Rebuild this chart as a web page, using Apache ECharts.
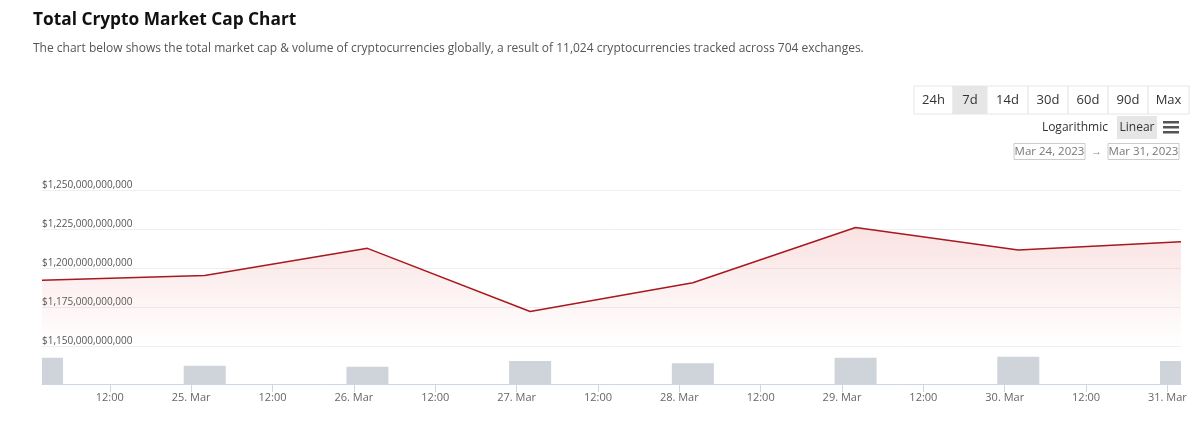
<!DOCTYPE html>
<html>
<head>
<meta charset="utf-8">
<script src="https://cdn.jsdelivr.net/npm/echarts@6/dist/echarts.min.js"></script>
<style>
  html, body { margin: 0; padding: 0; background: #fff; }
  #main { width: 1200px; height: 424px; }
</style>
</head>
<body>
<div id="main"></div>
<script>
// data
var dates = ['2023-03-24 02:00', '2023-03-25 02:00', '2023-03-26 02:00', '2023-03-27 02:00',
  '2023-03-28 02:00', '2023-03-29 02:00', '2023-03-30 02:00', '2023-03-31 02:00'];
var marketCap = [1192.2e9, 1195.2e9, 1212.6e9, 1172.1e9, 1190.5e9, 1226.0e9, 1211.5e9, 1216.8e9];
var volume = [81.6e9, 56.8e9, 53.7e9, 71.3e9, 64.2e9, 81.6e9, 84.7e9, 71.3e9];
var tickTimes = ['2023-03-24 12:00', '2023-03-25 00:00', '2023-03-25 12:00', '2023-03-26 00:00',
  '2023-03-26 12:00', '2023-03-27 00:00', '2023-03-27 12:00', '2023-03-28 00:00',
  '2023-03-28 12:00', '2023-03-29 00:00', '2023-03-29 12:00', '2023-03-30 00:00',
  '2023-03-30 12:00', '2023-03-31 00:00'];
var tickLabels = ['12:00', '25. Mar', '12:00', '26. Mar', '12:00', '27. Mar', '12:00', '28. Mar',
  '12:00', '29. Mar', '12:00', '30. Mar', '12:00', '31. Mar'];
var rangeButtons = ['24h', '7d', '14d', '30d', '60d', '90d', 'Max'];

var FONT = '"Open Sans", sans-serif';
var toMs = function (s) { return +echarts.time.parse(s); };
var times = dates.map(toMs);
var tickValues = tickTimes.map(toMs);
var capData = times.map(function (t, i) { return [t, marketCap[i]]; });
var volData = times.map(function (t, i) { return [t, volume[i]]; });

// range selector buttons (drawn as graphics)
var btnWidths = [39, 34, 41, 40, 40, 40, 41];
var graphics = [];
var bx = 914;
rangeButtons.forEach(function (label, i) {
  graphics.push({
    type: 'rect',
    shape: { x: bx, y: 86, width: btnWidths[i], height: 28 },
    style: { fill: i === 1 ? '#e6e6e6' : '#fff', stroke: '#e6e6e6', lineWidth: 1 }
  });
  graphics.push({
    type: 'text',
    x: bx + btnWidths[i] / 2, y: 100,
    style: { text: label, fill: '#333', font: '13px ' + FONT, align: 'center', verticalAlign: 'middle' }
  });
  bx += btnWidths[i];
});
graphics.push(
  {
    type: 'text', x: 1108, y: 127.5,
    style: { text: 'Logarithmic', fill: '#333', font: '12px ' + FONT, align: 'right', verticalAlign: 'middle' }
  },
  {
    type: 'rect', shape: { x: 1117, y: 116, width: 40, height: 23 },
    style: { fill: '#e6e6e6' }
  },
  {
    type: 'text', x: 1137, y: 127.5,
    style: { text: 'Linear', fill: '#333', font: '12px ' + FONT, align: 'center', verticalAlign: 'middle' }
  },
  { type: 'rect', shape: { x: 1163, y: 121, width: 16, height: 2.5 }, style: { fill: '#555' } },
  { type: 'rect', shape: { x: 1163, y: 126, width: 16, height: 2.5 }, style: { fill: '#555' } },
  { type: 'rect', shape: { x: 1163, y: 131, width: 16, height: 2.5 }, style: { fill: '#555' } },
  {
    type: 'rect', shape: { x: 1014, y: 143.5, width: 71, height: 16 },
    style: { fill: '#fff', stroke: '#ccc', lineWidth: 1 }
  },
  {
    type: 'text', x: 1049.5, y: 152,
    style: { text: echarts.time.format(times[0], '{MMM} {d}, {yyyy}'), fill: '#777', font: '11.5px ' + FONT, align: 'center', verticalAlign: 'middle' }
  },
  {
    type: 'text', x: 1096.5, y: 152,
    style: { text: '\u2192', fill: '#888', font: '11px ' + FONT, align: 'center', verticalAlign: 'middle' }
  },
  {
    type: 'rect', shape: { x: 1108, y: 143.5, width: 71, height: 16 },
    style: { fill: '#fff', stroke: '#ccc', lineWidth: 1 }
  },
  {
    type: 'text', x: 1143.5, y: 152,
    style: { text: echarts.time.format(times[times.length - 1], '{MMM} {d}, {yyyy}'), fill: '#777', font: '11.5px ' + FONT, align: 'center', verticalAlign: 'middle' }
  }
);

// volume bars, clipped to the lower grid like the original
function renderVolume(params, api) {
  var top = api.coord([api.value(0), api.value(1)]);
  var base = api.coord([api.value(0), 0]);
  var rect = echarts.graphic.clipRectByRect({
    x: top[0] - 21, y: top[1], width: 42, height: base[1] - top[1]
  }, {
    x: params.coordSys.x, y: params.coordSys.y,
    width: params.coordSys.width, height: params.coordSys.height
  });
  return rect && { type: 'rect', shape: rect, style: { fill: '#cfd3da' } };
}

var chart = echarts.init(document.getElementById('main'));
chart.setOption({
  animation: false,
  title: [
    {
      text: 'Total Crypto Market Cap Chart',
      left: 33, top: 12, padding: 0,
      textStyle: { fontFamily: FONT, fontSize: 17.3, fontWeight: 'bold', color: '#111' }
    },
    {
      text: 'The chart below shows the total market cap & volume of cryptocurrencies globally, a result of 11,024 cryptocurrencies tracked across 704 exchanges.',
      left: 33, top: 43, padding: 0,
      textStyle: { fontFamily: FONT, fontSize: 12, fontWeight: 'normal', color: '#555' }
    }
  ],
  graphic: graphics,
  grid: [
    { left: 42, right: 19, top: 190, height: 156 },
    { left: 42, right: 19, top: 355, bottom: 40 }
  ],
  xAxis: [
    {
      type: 'value', gridIndex: 0,
      min: times[0], max: times[times.length - 1],
      show: false
    },
    {
      type: 'value', gridIndex: 1,
      min: times[0], max: times[times.length - 1],
      axisLine: { show: true, onZero: false, lineStyle: { color: '#ccd6eb', width: 1 } },
      axisTick: { show: true, length: 8, customValues: tickValues, lineStyle: { color: '#ccd6eb' } },
      axisLabel: {
        customValues: tickValues,
        color: '#666', fontFamily: FONT, fontSize: 11, margin: 8,
        formatter: function (v) { return tickLabels[tickValues.indexOf(v)] || ''; }
      },
      splitLine: { show: false }
    }
  ],
  yAxis: [
    {
      type: 'value', gridIndex: 0,
      min: 1150e9, max: 1250e9, interval: 25e9,
      axisLine: { show: false },
      axisTick: { show: false },
      splitLine: { lineStyle: { color: '#efefef', width: 1 } },
      axisLabel: {
        inside: true, margin: 0, verticalAlign: 'bottom',
        color: '#555', fontFamily: FONT, fontSize: 10,
        formatter: function (v) { return '$' + echarts.format.addCommas(v); }
      }
    },
    {
      type: 'value', gridIndex: 1,
      min: 0, max: 90e9,
      show: false
    }
  ],
  series: [
    {
      name: 'Market Cap',
      type: 'line',
      xAxisIndex: 0, yAxisIndex: 0,
      data: capData,
      showSymbol: false,
      lineStyle: { color: '#a8181e', width: 1.5 },
      itemStyle: { color: '#a8181e' },
      areaStyle: {
        color: new echarts.graphic.LinearGradient(0, 0, 0, 1, [
          { offset: 0, color: 'rgba(226,90,90,0.25)' },
          { offset: 1, color: 'rgba(226,90,90,0.0)' }
        ])
      }
    },
    {
      name: 'Volume',
      type: 'custom',
      xAxisIndex: 1, yAxisIndex: 1,
      data: volData,
      renderItem: renderVolume
    }
  ]
});
</script>
</body>
</html>
